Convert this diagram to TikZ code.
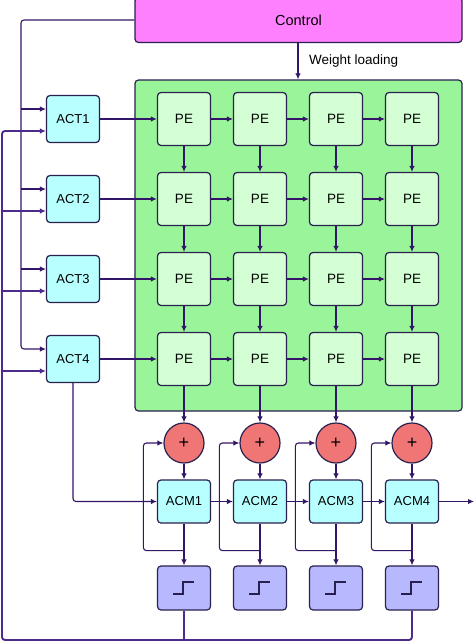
\documentclass[tikz,border=0pt]{standalone}
\usepackage{fontspec}
\setmainfont{Liberation Sans}
\usetikzlibrary{arrows.meta,calc}
\definecolor{lc}{RGB}{52,22,104}
\definecolor{hc}{RGB}{78,42,138}
\definecolor{bd}{RGB}{40,32,78}
\definecolor{ctrlfill}{RGB}{255,128,255}
\definecolor{gridfill}{RGB}{154,245,154}
\definecolor{pefill}{RGB}{212,255,212}
\definecolor{cyanfill}{RGB}{184,255,255}
\definecolor{addfill}{RGB}{240,118,118}
\definecolor{thrfill}{RGB}{184,184,255}
\tikzset{
  box/.style={draw=bd, line width=1.2pt, rounded corners=3.5pt, inner sep=0pt,
    font=\fontsize{13}{15}\selectfont},
  pebox/.style={box, fill=pefill, minimum width=53pt, minimum height=53pt, font=\fontsize{13.5}{15}\selectfont},
  actbox/.style={box, fill=cyanfill, minimum width=53pt, minimum height=47pt},
  acmbox/.style={box, fill=cyanfill, minimum width=53pt, minimum height=43pt},
  thrbox/.style={box, fill=thrfill, minimum width=53pt, minimum height=44pt},
  adder/.style={circle, draw=bd, line width=1.2pt, fill=addfill, minimum size=40pt,
    inner sep=0pt, font=\fontsize{18}{18}\selectfont},
  tip/.style={-{Latex[length=6pt,width=5.5pt]}},
  conn/.style={draw=lc, line width=1.1pt, tip},
  heavy/.style={draw=hc, line width=1.9pt},
  heavyconn/.style={heavy, -{Latex[length=6pt,width=5.5pt]}},
  stepline/.style={draw=bd, line width=1.7pt},
  rc/.style={rounded corners=3pt}
}
\begin{document}
\begin{tikzpicture}[x=1pt,y=-1pt]
\useasboundingbox (0,0) rectangle (474,642);
% control
\node[box, fill=ctrlfill, minimum width=327pt, minimum height=45pt,
  font=\fontsize{14.5}{16}\selectfont] (ctrl) at (298.5,20) {Control};
% grid
\node[box, fill=gridfill, minimum width=327pt, minimum height=331pt] (grid) at (298.5,245.5) {};
\coordinate (wl) at (298,0);
\draw[conn] (ctrl.south -| wl) -- (grid.north -| wl);
\node[anchor=west, inner sep=0pt, font=\fontsize{13.5}{15}\selectfont] (wltext) at (309,61) {Weight loading};
% PEs
\foreach \i in {0,...,3}{
  \foreach \j in {0,...,3}{
    \node[pebox] (pe\i\j) at ({184+76*\j},{119+80*\i}) {PE};
  }
}
% ACTs
\foreach \i in {0,...,3}{
  \pgfmathtruncatemacro{\n}{\i+1}
  \node[actbox] (act\i) at (73,{119+80*\i}) {ACT\n};
  \coordinate (u\i) at ($(act\i.west)+(0,-10)$);
  \coordinate (l\i) at ($(act\i.west)+(0,12)$);
}
% adders, ACMs, thresholds
\foreach \j in {0,...,3}{
  \pgfmathtruncatemacro{\n}{\j+1}
  \node[adder] (add\j) at ({184+76*\j},443) {+};
  \node[acmbox] (acm\j) at ({184+76*\j},501.5) {ACM\n};
  \node[thrbox] (thr\j) at ({184+76*\j},588) {};
  \draw[stepline] ($(thr\j.center)+(-11,6)$) -- ++(10,0) -- ++(0,-12) -- ++(11,0);
}
% ACT -> PE
\foreach \i in {0,1,2}{ \draw[heavyconn, draw=lc] (act\i.east) -- (pe\i0.west); }
\draw[conn] (act3.east) -- (pe30.west);
% PE horizontal
\foreach \i in {0,...,3}{
  \foreach \j/\k in {0/1,1/2,2/3}{ \draw[conn] (pe\i\j.east) -- (pe\i\k.west); }
}
% PE vertical
\foreach \j in {0,...,3}{
  \foreach \i/\k in {0/1,1/2,2/3}{ \draw[conn] (pe\i\j.south) -- (pe\k\j.north); }
  \draw[conn] (pe3\j.south) -- (add\j.north);
  \draw[conn] (add\j.south) -- (acm\j.north);
  \draw[conn] (acm\j.south) -- (thr\j.north);
  \draw[conn, rc] ($(acm\j.south)+(0,27)$) -| ($(add\j.west)+(-20,0)$) -- (add\j.west);
}
% ACM chain
\foreach \j/\k in {0/1,1/2,2/3}{ \draw[conn] (acm\j.east) -- (acm\k.west); }
\coordinate (out) at (474,501.5);
\draw[heavyconn, draw=lc] (acm3.east) -- (out);
% ACT4 -> ACM1
\draw[conn, rc] (act3.south) |- (acm0.west);
% control lines to ACT upper inputs
\coordinate (cl) at (21,0);
\draw[conn, rc] (ctrl.west) -| (cl |- u3) -- (u3);
\foreach \i in {0,1,2}{ \draw[conn] (cl |- u\i) -- (u\i); }
% feedback bus from thresholds
\coordinate (bus) at (2,640);
\draw[heavyconn, rc] (thr3.south) |- (bus) |- (l0);
\draw[heavy] (thr0.south) -- (thr0.south |- bus);
\foreach \i in {1,2,3}{ \draw[heavyconn] (bus |- l\i) -- (l\i); }
\end{tikzpicture}
\end{document}
